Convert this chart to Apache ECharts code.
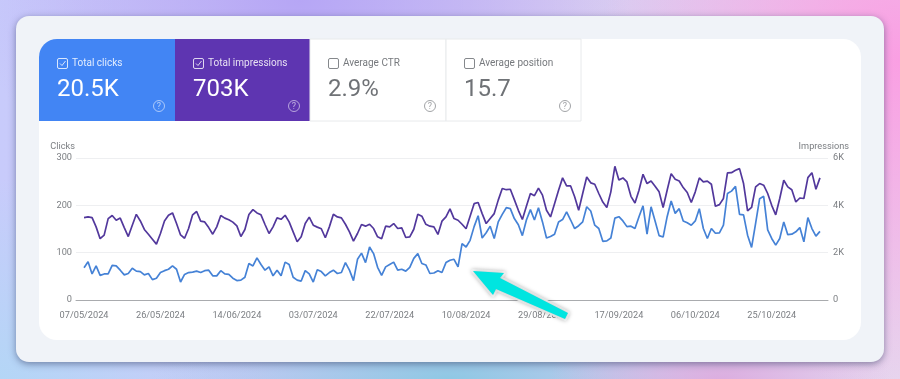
<!DOCTYPE html>
<html>
<head>
<meta charset="utf-8">
<title>Search performance</title>
<script src="https://cdn.jsdelivr.net/npm/echarts@6/dist/echarts.min.js"></script>
<style>
  html, body { margin: 0; padding: 0; width: 900px; height: 379px; overflow: hidden; }
  body {
    background:
      radial-gradient(300px 330px at 900px 60px, #fa9fe3 0%, rgba(250,159,227,0) 100%),
      radial-gradient(170px 70px at 720px 379px, #dcaee0 0%, rgba(220,174,224,0) 100%),
      radial-gradient(330px 210px at 300px 0px, #b6a6f5 0%, rgba(182,166,245,0) 100%),
      radial-gradient(300px 90px at 450px 379px, #8fc8e4 0%, rgba(143,200,228,0) 100%),
      radial-gradient(260px 200px at 0px 379px, #b4d6f6 0%, rgba(180,214,246,0) 100%),
      linear-gradient(90deg, #c8cbfb 0%, #d2c8f3 50%, #e6d6ee 100%);
  }
  #chart { position: absolute; left: 0; top: 0; width: 900px; height: 379px; }
</style>
</head>
<body>
<div id="chart"></div>
<script>
  const startDate = '2024-05-07';
  const tickLabels = ['07/05/2024', '26/05/2024', '14/06/2024', '03/07/2024', '22/07/2024',
    '10/08/2024', '29/08/2024', '17/09/2024', '06/10/2024', '25/10/2024'];

  const clicks = [
    68, 81, 55, 72, 52, 55, 55, 73, 72, 63, 53, 56, 67, 61, 60, 53, 56, 43, 46, 58, 62, 65, 72, 65, 38,
    54, 58, 59, 61, 58, 62, 63, 51, 51, 62, 55, 54, 46, 41, 42, 48, 77, 72, 89, 75, 63, 70, 51, 63, 51,
    80, 75, 48, 42, 40,
    62, 55, 38, 64, 60, 51, 58, 63, 56, 58, 79, 63, 41, 86, 99, 79, 112, 98, 69, 52, 70, 75, 80, 63, 65,
    61, 69, 88, 98, 77, 74, 56, 57, 62, 58, 79, 84, 86, 70, 119, 112, 126, 155, 178, 131, 142, 156, 130,
    165, 181, 195, 193, 172, 159, 136, 169, 191, 169, 195, 165, 131, 134, 139, 165, 170, 186, 169,
    151, 157, 165, 197, 188, 158, 151, 124, 125, 131, 173, 176, 167, 155, 156, 151, 176, 199, 139, 197,
    167, 136, 133, 176, 209, 183, 193, 167, 163, 158, 167, 193, 151, 130, 151, 141, 142, 158, 225, 230,
    240, 181, 180, 137, 111, 162, 214, 219, 148, 130, 116, 130, 165, 138, 139, 144, 153, 123, 174, 151,
    135, 145
  ];
  const impressions = [
    3480, 3510, 3480, 3090, 2590, 2740, 3440, 3570, 3370, 3460, 3060, 2680, 3160, 3620, 3340, 2980, 2780,
    2570, 2360, 2810, 3340, 3580, 3680, 3230, 2750, 2610, 3020, 3600, 3740, 3330, 3300, 3060, 2780, 3090,
    3570, 3460, 3390, 3290, 3130, 2680, 2980, 3610, 3820, 3680, 3600, 3190, 2810, 3090, 3470, 3410, 3580,
    3300, 2880, 2460, 2670,
    3230, 3500, 3160, 3080, 3010, 2630, 3090, 3620, 3510, 3470, 3200, 2880, 2490, 2810, 3190, 3120, 3200,
    3020, 2670, 2590, 3120, 3090, 3230, 3020, 3050, 2640, 2670, 2990, 3620, 3540, 3200, 3120, 3090, 2770,
    3330, 3510, 3850, 3440, 3370, 3200, 3010, 3540, 4070, 4120, 3650, 3230, 3440, 3650, 4220, 4710, 4660,
    4680, 4240, 3790, 3400, 3960, 4500, 4410, 4730, 4430, 3790, 3510, 4070, 4640, 5160, 4820, 4820,
    4360, 3790, 4500, 5200, 4950, 4890, 4500, 4140, 3910, 4570, 5650, 5070, 5160, 4990, 4380, 4100, 4640,
    5310, 4920, 5030, 4810, 4570, 3910, 4640, 5340, 5100, 5030, 4750, 4540, 4120, 4570, 5160, 4990, 5020,
    4890, 3960, 4030, 4290, 5370, 5380, 5480, 5550, 4920, 3770, 3910, 4780, 4920, 4850, 4500, 4000, 3600,
    4290, 5060, 4780, 4660, 4140, 4310, 4290, 5170, 5380, 4680, 5160
  ];

  const tiles = [
    { x: 39, w: 136, label: 'Total clicks', value: '20.5K', fill: '#4285f4', on: true },
    { x: 175, w: 135, label: 'Total impressions', value: '703K', fill: '#5e35b1', on: true },
    { x: 310, w: 136, label: 'Average CTR', value: '2.9%', fill: '#ffffff', on: false },
    { x: 446, w: 135, label: 'Average position', value: '15.7', fill: '#ffffff', on: false }
  ];

  function dayLabels(start, n) {
    const out = [];
    const d = new Date(start + 'T12:00:00Z');
    for (let i = 0; i < n; i++) {
      const dd = String(d.getUTCDate()).padStart(2, '0');
      const mm = String(d.getUTCMonth() + 1).padStart(2, '0');
      out.push(dd + '/' + mm + '/' + d.getUTCFullYear());
      d.setUTCDate(d.getUTCDate() + 1);
    }
    return out;
  }

  // two empty slots each side, the axis line overhangs the first and last day
  const pad = ['', ''];
  const categories = pad.concat(dayLabels(startDate, clicks.length), pad);
  const padSeries = arr => [null, null].concat(arr, [null, null]);

  function tileGraphics(t, i) {
    const textCol = t.on ? '#ffffff' : '#6f7276';
    const lineCol = t.on ? 'rgba(255,255,255,0.8)' : '#85888c';
    const left = t.x + 18;
    const els = [];
    // first tile has the round corner of the panel
    els.push({
      type: 'rect', z: 10,
      shape: { x: t.x, y: 39, width: t.w, height: 82, r: i === 0 ? [18, 0, 0, 0] : 0 },
      style: { fill: t.fill, stroke: t.on ? null : '#e8eaec', lineWidth: 1 }
    });
    els.push({
      type: 'rect', z: 11,
      shape: { x: left + 0.5, y: 58.5, width: 10, height: 10, r: 1.5 },
      style: { fill: 'none', stroke: lineCol, lineWidth: 1 }
    });
    if (t.on) {
      els.push({
        type: 'polyline', z: 11,
        shape: { points: [[left + 3, 63.5], [left + 5, 65.5], [left + 8.5, 61]] },
        style: { fill: 'none', stroke: lineCol, lineWidth: 1 }
      });
    }
    els.push({
      type: 'text', z: 11, x: left + 15, y: 63,
      style: { text: t.label, fill: t.on ? 'rgba(255,255,255,0.85)' : '#76797d', font: '10px Roboto', verticalAlign: 'middle' }
    });
    els.push({
      type: 'text', z: 11, x: left, y: 90,
      style: { text: t.value, fill: textCol, font: '24px Roboto', verticalAlign: 'middle' }
    });
    els.push({
      type: 'circle', z: 11,
      shape: { cx: t.x + t.w - 16, cy: 106, r: 5.5 },
      style: { fill: 'none', stroke: t.on ? 'rgba(255,255,255,0.55)' : '#a2a4a7', lineWidth: 1 }
    });
    els.push({
      type: 'text', z: 11, x: t.x + t.w - 16, y: 106.5,
      style: { text: '?', fill: t.on ? 'rgba(255,255,255,0.6)' : '#a2a4a7', font: '9px Roboto', align: 'center', verticalAlign: 'middle' }
    });
    return els;
  }

  const panel = [
    {
      type: 'rect', z: -10,
      shape: { x: 16, y: 16, width: 868, height: 346, r: 13 },
      style: { fill: '#f0f3f8', shadowBlur: 7, shadowColor: 'rgba(40,50,90,0.5)', shadowOffsetY: 2 }
    },
    {
      type: 'rect', z: -9,
      shape: { x: 39, y: 39, width: 822, height: 301, r: 18 },
      style: { fill: '#ffffff' }
    }
  ];

  // hand drawn arrow on top of the screenshot
  const arrow = {
    type: 'polygon', z: 20,
    shape: {
      points: [[473, 271], [504, 273], [500, 278], [568, 313], [565, 319], [496, 289], [493, 295]]
    },
    style: {
      fill: '#00e5e0', stroke: '#f2f4f4', lineWidth: 4, lineJoin: 'round', strokeFirst: true,
      shadowBlur: 4, shadowColor: 'rgba(0,0,0,0.22)'
    }
  };

  const axisText = { color: '#7b7e82', fontFamily: 'Roboto', fontSize: 9.2 };

  const chart = echarts.init(document.getElementById('chart'), null, { renderer: 'canvas' });
  chart.setOption({
    backgroundColor: 'transparent',
    animation: false,
    textStyle: { fontFamily: 'Roboto' },
    grid: { left: 76, right: 72, top: 158, bottom: 79 },
    xAxis: {
      type: 'category',
      boundaryGap: false,
      data: categories,
      axisLine: { lineStyle: { color: '#a9abae', width: 1 } },
      axisTick: { show: false },
      axisLabel: Object.assign({}, axisText, {
        margin: 11,
        interval: (i, v) => tickLabels.includes(v),
        hideOverlap: false
      }),
      splitLine: { show: false }
    },
    yAxis: [
      {
        type: 'value', min: 0, max: 300, interval: 100,
        name: 'Clicks',
        nameGap: 7,
        nameTextStyle: Object.assign({}, axisText, { align: 'right', padding: [0, 1, 0, 0] }),
        axisLine: { show: false }, axisTick: { show: false },
        axisLabel: Object.assign({}, axisText, { margin: 4 }),
        splitLine: { lineStyle: { color: '#eeeff1', width: 1 } }
      },
      {
        type: 'value', min: 0, max: 6000, interval: 2000,
        name: 'Impressions',
        nameGap: 7,
        nameTextStyle: Object.assign({}, axisText, { align: 'right', padding: [0, -21, 0, 0] }),
        axisLine: { show: false }, axisTick: { show: false },
        axisLabel: Object.assign({}, axisText, {
          margin: 5,
          formatter: v => (v === 0 ? '0' : (v / 1000) + 'K')
        }),
        splitLine: { show: false }
      }
    ],
    series: [
      {
        name: 'Clicks', type: 'line', yAxisIndex: 0, showSymbol: false, connectNulls: false,
        data: padSeries(clicks),
        lineStyle: { color: '#4582d6', width: 1.7 }
      },
      {
        name: 'Impressions', type: 'line', yAxisIndex: 1, showSymbol: false, connectNulls: false,
        data: padSeries(impressions),
        lineStyle: { color: '#52389c', width: 1.7 }
      }
    ],
    graphic: { elements: panel.concat(tiles.flatMap(tileGraphics), [arrow]) }
  });
</script>
</body>
</html>
